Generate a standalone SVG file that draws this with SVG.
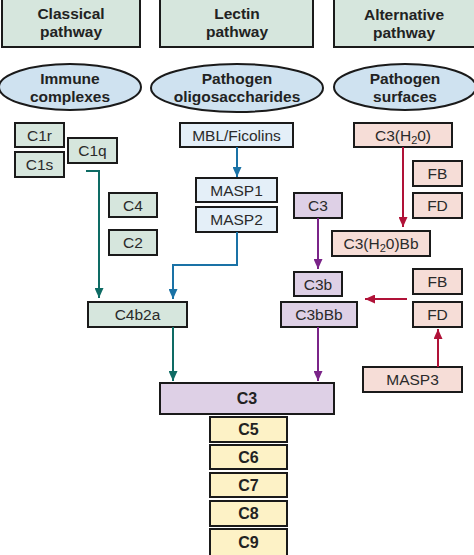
<svg xmlns="http://www.w3.org/2000/svg" width="474" height="555" viewBox="0 0 474 555">
<defs>
<style>
.b{stroke:#1a1a1a;stroke-width:2}
.g{fill:#d6e6dd}
.lb{fill:#e4eff8}
.el{fill:#cfe2f0;stroke:#1a1a1a;stroke-width:2}
.p{fill:#ded0e6}
.pk{fill:#f6ddd7}
.y{fill:#fdf2c6}
text{font-family:"Liberation Sans",Arial,sans-serif;fill:#222;text-anchor:middle}
.h{font-size:15.5px;font-weight:bold}
.t{font-size:15.5px;fill:#2a2a2a}
.bt{font-size:16px;font-weight:bold}
.c{fill:none;stroke-width:2}
</style>
<marker id="aT" viewBox="0 0 10 10" refX="10" refY="5" markerWidth="5" markerHeight="4.5" orient="auto" preserveAspectRatio="none"><path d="M0,0 L10,5 L0,10 z" fill="#0e6b64"/></marker>
<marker id="aB" viewBox="0 0 10 10" refX="10" refY="5" markerWidth="5" markerHeight="4.5" orient="auto" preserveAspectRatio="none"><path d="M0,0 L10,5 L0,10 z" fill="#1a72a6"/></marker>
<marker id="aP" viewBox="0 0 10 10" refX="10" refY="5" markerWidth="5" markerHeight="4.5" orient="auto" preserveAspectRatio="none"><path d="M0,0 L10,5 L0,10 z" fill="#7a2488"/></marker>
<marker id="aR" viewBox="0 0 10 10" refX="10" refY="5" markerWidth="5" markerHeight="4.5" orient="auto" preserveAspectRatio="none"><path d="M0,0 L10,5 L0,10 z" fill="#b01238"/></marker>
</defs>
<rect width="474" height="555" fill="#fff"/>

<g id="classical"><rect class="b g" x="2" y="-2" width="138" height="49"/><text class="h" x="71" y="19">Classical</text><text class="h" x="71" y="37">pathway</text></g>
<g id="lectin"><rect class="b g" x="160" y="-2" width="153" height="49"/><text class="h" x="237" y="19">Lectin</text><text class="h" x="237" y="37">pathway</text></g>
<g id="alternative"><rect class="b g" x="334" y="-2" width="142" height="49"/><text class="h" x="404" y="20">Alternative</text><text class="h" x="404" y="38">pathway</text></g>

<g id="immune"><ellipse class="el" cx="70" cy="87" rx="71" ry="23"/><text class="h" x="70" y="84">Immune</text><text class="h" x="70" y="102">complexes</text></g>
<g id="oligo"><ellipse class="el" cx="237" cy="88" rx="86" ry="24"/><text class="h" x="237" y="84">Pathogen</text><text class="h" x="237" y="102">oligosaccharides</text></g>
<g id="surfaces"><ellipse class="el" cx="405" cy="87" rx="71" ry="23"/><text class="h" x="405" y="84">Pathogen</text><text class="h" x="405" y="102">surfaces</text></g>

<g id="C1r"><rect class="b g" x="15" y="123" width="49" height="24"/><text class="t" x="39.5" y="141">C1r</text></g>
<g id="C1s"><rect class="b g" x="15" y="152" width="49" height="25"/><text class="t" x="39.5" y="170">C1s</text></g>
<g id="C1q"><rect class="b g" x="68" y="138" width="49" height="25"/><text class="t" x="92.5" y="156">C1q</text></g>
<g id="C4"><rect class="b g" x="109" y="193" width="48" height="24"/><text class="t" x="133" y="211">C4</text></g>
<g id="C2"><rect class="b g" x="109" y="230" width="48" height="25"/><text class="t" x="133" y="248">C2</text></g>
<g id="C4b2a"><rect class="b g" x="88" y="302" width="99" height="25"/><text class="t" x="137.5" y="320">C4b2a</text></g>

<g id="MBL"><rect class="b lb" x="180" y="123" width="113" height="24"/><text class="t" x="236.5" y="141">MBL/Ficolins</text></g>
<g id="MASP1"><rect class="b lb" x="196" y="178" width="81" height="24"/><text class="t" x="236.5" y="196">MASP1</text></g>
<g id="MASP2"><rect class="b lb" x="196" y="207" width="81" height="25"/><text class="t" x="236.5" y="225">MASP2</text></g>

<g id="C3small"><rect class="b p" x="294" y="193" width="48" height="25"/><text class="t" x="318" y="211">C3</text></g>
<g id="C3b"><rect class="b p" x="294" y="272" width="48" height="24"/><text class="t" x="318" y="290">C3b</text></g>
<g id="C3bBb"><rect class="b p" x="281" y="302" width="76" height="25"/><text class="t" x="319" y="320">C3bBb</text></g>

<g id="C3H2O"><rect class="b pk" x="354" y="123" width="98" height="24"/><text class="t" x="403" y="141">C3(H<tspan font-size="11" dy="3">2</tspan><tspan dy="-3">0)</tspan></text></g>
<g id="FB1"><rect class="b pk" x="413" y="161" width="49" height="25"/><text class="t" x="437.5" y="179">FB</text></g>
<g id="FD1"><rect class="b pk" x="413" y="193" width="49" height="25"/><text class="t" x="437.5" y="211">FD</text></g>
<g id="C3H2OBb"><rect class="b pk" x="332" y="231" width="98" height="25"/><text class="t" x="381" y="249">C3(H<tspan font-size="11" dy="3">2</tspan><tspan dy="-3">0)Bb</tspan></text></g>
<g id="FB2"><rect class="b pk" x="413" y="269" width="49" height="25"/><text class="t" x="437.5" y="287">FB</text></g>
<g id="FD2"><rect class="b pk" x="413" y="302" width="49" height="25"/><text class="t" x="437.5" y="320">FD</text></g>
<g id="MASP3"><rect class="b pk" x="363" y="367" width="99" height="25"/><text class="t" x="412.5" y="385">MASP3</text></g>

<g id="C3big"><rect class="b p" x="160" y="383" width="174" height="31"/><text class="bt" x="247" y="404">C3</text></g>
<g id="C5"><rect class="b y" x="210" y="417" width="77" height="25"/><text class="bt" x="248.5" y="435">C5</text></g>
<g id="C6"><rect class="b y" x="210" y="445" width="77" height="24"/><text class="bt" x="248.5" y="463">C6</text></g>
<g id="C7"><rect class="b y" x="210" y="473" width="77" height="24"/><text class="bt" x="248.5" y="491">C7</text></g>
<g id="C8"><rect class="b y" x="210" y="501" width="77" height="25"/><text class="bt" x="248.5" y="519">C8</text></g>
<g id="C9"><rect class="b y" x="210" y="529" width="77" height="28"/><text class="bt" x="248.5" y="548">C9</text></g>

<g id="connectors">
<path class="c" stroke="#0e6b64" d="M86,171 H99 V298" marker-end="url(#aT)"/>
<path class="c" stroke="#1a72a6" d="M237,147 V177" marker-end="url(#aB)"/>
<path class="c" stroke="#1a72a6" d="M237,232 V265 H173 V299" marker-end="url(#aB)"/>
<path class="c" stroke="#7a2488" d="M318,218 V269" marker-end="url(#aP)"/>
<path class="c" stroke="#b01238" d="M403,147 V227" marker-end="url(#aR)"/>
<path class="c" stroke="#b01238" d="M407,299 H365" marker-end="url(#aR)"/>
<path class="c" stroke="#b01238" d="M438,367 V329" marker-end="url(#aR)"/>
<path class="c" stroke="#0e6b64" d="M173,327 V381" marker-end="url(#aT)"/>
<path class="c" stroke="#7a2488" d="M318,327 V381" marker-end="url(#aP)"/>
</g>
</svg>
